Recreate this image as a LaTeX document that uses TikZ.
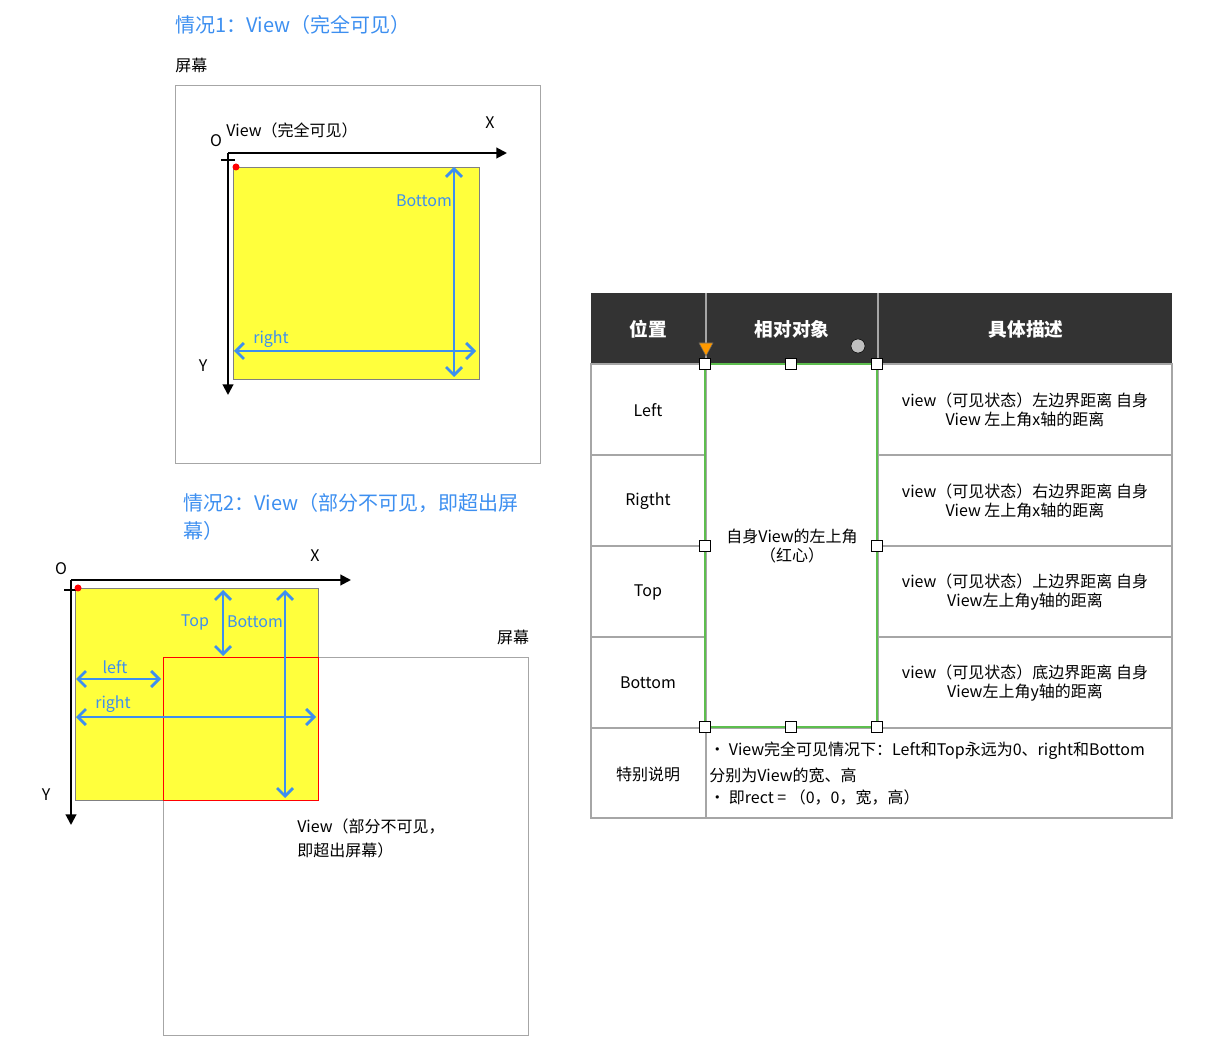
\documentclass[tikz,border=0pt]{standalone}
\usepackage{fontspec}
\setmainfont{Noto Sans CJK SC}
\usetikzlibrary{arrows.meta}
\definecolor{lblue}{HTML}{3D8FF0}
\definecolor{ylw}{HTML}{FFFF3C}
\definecolor{hdr}{HTML}{333333}
\definecolor{grn}{HTML}{5DBE4E}
\tikzset{
 txt/.style={font=\fontsize{12}{14}\selectfont,inner sep=0pt},
 btxt/.style={txt,text=lblue},
 ttl/.style={font=\fontsize{15}{18}\selectfont,text=lblue,inner sep=0pt,anchor=west},
 axis/.style={line width=1.5pt,-{Triangle[length=8pt,width=8pt]}},
 dbl/.style={draw=lblue,line width=2pt,{Straight Barb[length=6pt,width=12pt]}-{Straight Barb[length=6pt,width=12pt]}},
 grid/.style={draw=gray!70,line width=1pt},
 hnd/.style={draw=black,fill=white,minimum size=8pt,inner sep=0pt,line width=0.8pt},
}
\begin{document}
\begin{tikzpicture}[x=0.75pt,y=-0.75pt]
\useasboundingbox (0,0) rectangle (1222,1048);
% ---- case 1
\node[ttl] (t1) at (175,25) {情况1：View（完全可见）};
\node[txt,anchor=west] (s1) at (175,65) {屏幕};
\draw[gray!70] (175,85) rectangle (540,463);
\node[txt,anchor=west] (v1) at (226,130) {View（完全可见）};
\draw[fill=ylw,draw=gray] (233,167) rectangle (479,379);
\coordinate (o1) at (228,153);
\coordinate (x1) at (507,153);
\coordinate (y1) at (228,395);
\draw[axis] (o1) -- (x1);
\draw[axis] (o1) -- (y1);
\draw[line width=1.5pt] (221,160)--(235,160);
\node[txt] (O1) at (216,141) {O};
\node[txt] (X1) at (490,123) {X};
\node[txt] (Y1) at (203,366) {Y};
\fill[red] (236,167) circle (3.5);
\coordinate (b1a) at (454,167); \coordinate (b1b) at (454,377);
\draw[dbl] (b1a)--(b1b);
\node[btxt] (bl1) at (424,201) {Bottom};
\coordinate (r1a) at (234,351); \coordinate (r1b) at (476,351);
\draw[dbl] (r1a)--(r1b);
\node[btxt] (rl1) at (271,339) {right};
% ---- case 2
\node[ttl] (t2) at (183,503) {情况2：View（部分不可见，即超出屏};
\node[ttl] (t2b) at (183,531) {幕）};
\draw[fill=ylw,draw=gray] (75,588) rectangle (318,800);
\draw[gray!70] (163,657) rectangle (528,1035);
\draw[red] (163,657) rectangle (318,800);
\node[txt] (s2) at (513,637) {屏幕};
\coordinate (o2) at (71,580);
\coordinate (x2) at (351,580);
\coordinate (y2) at (71,825);
\draw[axis] (o2) -- (x2);
\draw[axis] (o2) -- (y2);
\draw[line width=1.5pt] (64,590)--(78,590);
\node[txt] (O2) at (61,569) {O};
\node[txt] (X2) at (315,556) {X};
\node[txt] (Y2) at (46,795) {Y};
\fill[red] (78,588) circle (3.5);
\coordinate (ta) at (223,590); \coordinate (tb) at (223,656);
\draw[dbl] (ta)--(tb);
\node[btxt] (tl) at (195,622) {Top};
\coordinate (ba) at (285,590); \coordinate (bb) at (285,798);
\draw[dbl] (ba)--(bb);
\node[btxt] (bl2) at (255,622) {Bottom};
\coordinate (la) at (76,679); \coordinate (lb) at (161,679);
\draw[dbl] (la)--(lb);
\node[btxt] (ll) at (115,667) {left};
\coordinate (ra) at (76,717); \coordinate (rb) at (316,717);
\draw[dbl] (ra)--(rb);
\node[btxt] (rl2) at (113,704) {right};
\node[txt,anchor=west] (v2a) at (297,827) {View（部分不可见，};
\node[txt,anchor=west] (v2b) at (297,850) {即超出屏幕）};
% ---- table
\fill[hdr] (591,293) rectangle (1172,364);
\draw[gray!70,line width=1pt] (706,293)--(706,364) (878,293)--(878,364);
\draw[grid] (591,364) rectangle (1172,818);
\draw[grid] (706,364)--(706,818) (878,364)--(878,728);
\foreach \yy in {455,546,637} {\draw[grid] (591,\yy)--(706,\yy) (878,\yy)--(1172,\yy);}
\draw[grid] (591,728)--(1172,728);
\draw[grn,line width=0.8pt] (705,364) rectangle (877,727);
\foreach \p in {(705,364),(791,364),(877,364),(705,546),(877,546),(705,727),(791,727),(877,727)}
  \node[hnd] at \p {};
\fill[orange!80!yellow,draw=black!60] (699,343)--(713,343)--(706,356)--cycle;
\draw[fill=gray!50,draw=black] (858,346) circle (7);
\tikzset{htx/.style={font=\fontsize{14}{16}\selectfont\bfseries,text=white,inner sep=0pt}}
\node[htx] (h1) at (648,329) {位置};
\node[htx] (h2) at (792,329) {相对对象};
\node[htx] (h3) at (1026,329) {具体描述};
\node[txt] (c1) at (648,410) {Left};
\node[txt] (c2) at (648,501) {Rigtht};
\node[txt] (c3) at (648,592) {Top};
\node[txt] (c4) at (648,683) {Bottom};
\node[txt] (c5) at (648,774) {特别说明};
\node[txt,align=center] (m) at (792,546) {自身View的左上角\\（红心）};
\node[txt,align=center] (d1) at (1025,410) {view（可见状态）左边界距离 自身\\View 左上角x轴的距离};
\node[txt,align=center] (d2) at (1025,501) {view（可见状态）右边界距离 自身\\View 左上角x轴的距离};
\node[txt,align=center] (d3) at (1025,592) {view（可见状态）上边界距离 自身\\View左上角y轴的距离};
\node[txt,align=center] (d4) at (1025,683) {view（可见状态）底边界距离 自身\\View左上角y轴的距离};
\node[txt,anchor=west] (e1) at (709,751) {• View完全可见情况下：Left和Top永远为0、right和Bottom};
\node[txt,anchor=west] (e2) at (709,775) {分别为View的宽、高};
\node[txt,anchor=west] (e3) at (709,798) {• 即rect = （0，0，宽，高）};
\end{tikzpicture}
\end{document}
